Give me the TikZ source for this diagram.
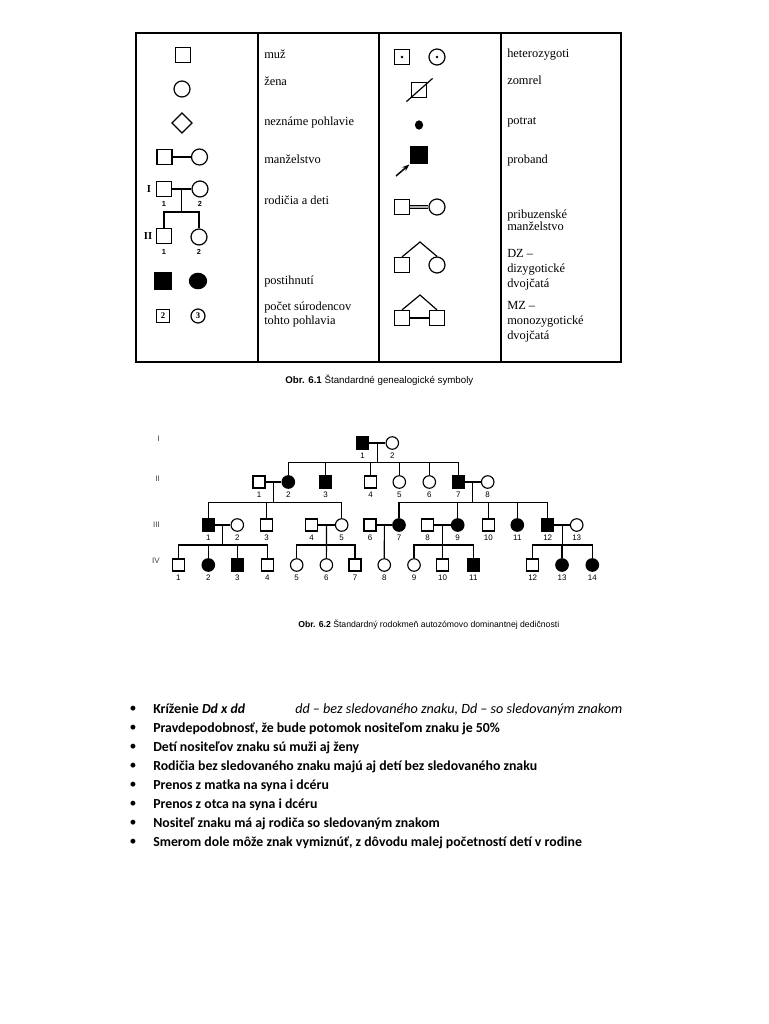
\documentclass[tikz,border=0pt]{standalone}
\usepackage{fontspec}
\setmainfont{Liberation Serif}
\newfontfamily\arialf{Liberation Sans}
\newfontfamily\calib{Carlito}
\usetikzlibrary{calc,arrows.meta,shapes.geometric}
\begin{document}
\begin{tikzpicture}[x=0.75pt,y=-0.75pt,
  tab/.style={line width=1.2pt},
  sym/.style={draw,line width=0.9pt,inner sep=0pt},
  tsq/.style={sym,rectangle,minimum size=11.25pt},
  tci/.style={sym,circle,minimum size=12pt},
  tdia/.style={sym,diamond,minimum size=15.5pt},
  tline/.style={line width=0.9pt},
  ttxt/.style={anchor=base west,inner sep=0pt,font=\fontsize{9.3}{11.2}\selectfont},
  tnum/.style={inner sep=0pt,font=\arialf\bfseries\fontsize{5.5}{6}\selectfont},
  tgen/.style={inner sep=0pt,font=\bfseries\fontsize{8}{9}\selectfont},
  psq/.style={draw,rectangle,minimum size=9pt,inner sep=0pt,line width=0.85pt},
  pci/.style={draw,circle,minimum size=9.4pt,inner sep=0pt,line width=0.85pt},
  aff/.style={fill=black},
  pline/.style={line width=0.85pt},
  every label/.style={inner sep=0pt,font=\arialf\fontsize{6}{7}\selectfont},
  label distance=2pt,
  pgen/.style={anchor=east,inner sep=0pt,text=black!75,font=\arialf\fontsize{6}{7}\selectfont},
  captxt/.style={anchor=base west,inner sep=0pt},
  btxt/.style={anchor=base west,inner sep=0pt,font=\calib\bfseries\fontsize{10.35}{12}\selectfont},
  bul/.style={inner sep=0pt,font=\calib\fontsize{10.35}{12}\selectfont}
]
\useasboundingbox (0,0) rectangle (768,1024);
\fill[white] (0,0) rectangle (768,1024);

% ---------------- table ----------------
\draw[tab] (136,33) rectangle (621,362);
\draw[tab] (258,33) -- (258,362);
\draw[tab] (379,33) -- (379,362);
\draw[tab] (501,33) -- (501,362);

% left column symbols
\node[tsq] (muz) at (183,55) {};
\node[tci] (zena) at (182,89) {};
\node[tdia] (nezn) at (182,123) {};
\node[tsq] (mz1) at (164.5,157) {};
\node[tci] (mz2) at (199.5,157) {};
\draw[tline] (mz1) -- (mz2);

\node[tgen] (gI) at (149,189) {I};
\node[tsq] (r1) at (164,189) {};
\node[tci] (r2) at (200,189) {};
\draw[tline] (r1) -- (r2);
\node[tnum] (r1n) at (164,204) {1};
\node[tnum] (r2n) at (200,204) {2};
\node[tgen] (gII) at (148,236) {II};
\node[tsq] (c1) at (164,236) {};
\node[tci] (c2) at (199,237) {};
\node[tnum] (c1n) at (164,252) {1};
\node[tnum] (c2n) at (199,252) {2};
\coordinate (rm) at ($(r1.east)!.5!(r2.west)$);
\coordinate (rf) at ($(rm)+(0,23)$);
\draw[tline] (rm) -- (rf);
\draw[tline] (c1.north) |- (rf) -| (c2.north);

\node[sym,rectangle,minimum size=12pt,fill=black] (pm) at (163,281) {};
\node[sym,ellipse,minimum width=12.8pt,minimum height=11.5pt,fill=black] (pz) at (198,281) {};
\node[sym,rectangle,minimum size=9.8pt,font=\bfseries\fontsize{6.5}{7}\selectfont] (sm) at (163,316) {2};
\node[sym,circle,minimum size=10.5pt,font=\bfseries\fontsize{6.5}{7}\selectfont] (sz) at (198,316) {3};

% left column texts
\node[ttxt] (t1) at (264,58.5) {muž};
\node[ttxt] (t2) at (264,85.5) {žena};
\node[ttxt] (t3) at (264,125.5) {neznáme pohlavie};
\node[ttxt] (t4) at (264,163.5) {manželstvo};
\node[ttxt] (t5) at (264,204) {rodičia a deti};
\node[ttxt] (t6) at (264,284.5) {postihnutí};
\node[ttxt] (t7) at (264,310.5) {počet súrodencov};
\node[ttxt] (t8) at (264,324) {tohto pohlavia};

% right column symbols
\node[tsq] (hs) at (402,57) {};
\fill (hs.center) circle (1.4);
\node[tci] (hc) at (437,57) {};
\fill (hc.center) circle (1.4);

\node[tsq] (zm) at (419,90) {};
\coordinate (zma) at ($(zm.south west)+(-4.5,3.5)$);
\coordinate (zmb) at ($(zm.north east)+(5.5,-3.5)$);
\draw[tline] (zma) -- (zmb);

\node[sym,ellipse,fill=black,minimum width=5.2pt,minimum height=6pt] (pot) at (419,125) {};

\node[sym,rectangle,minimum size=12pt,fill=black] (pb) at (419,155) {};
\coordinate (pbt) at (396,176);
\draw[line width=1.1pt,-{Stealth[length=5.5pt,width=4pt]},shorten >=1pt] (pbt) -- (pb.south west);

\node[tsq] (ps) at (402,207) {};
\node[tci] (pc) at (437,207) {};
\draw[line width=0.5pt,double=gray!60,double distance=1.8pt] (ps) -- (pc);

\coordinate (dza) at (420,242);
\node[tsq] (dzs) at (402,265) {};
\node[tci] (dzc) at (437,265) {};
\draw[tline] (dzs.north) -- (dza) -- (dzc.north);

\coordinate (mza) at (420,295);
\node[tsq] (mzs1) at (402,318) {};
\node[tsq] (mzs2) at (437,318) {};
\draw[tline] (mzs1.north) -- (mza) -- (mzs2.north);
\draw[tline] (mzs1) -- (mzs2);

% right column texts
\node[ttxt] (u1) at (507,57.5) {heterozygoti};
\node[ttxt] (u2) at (507,84.5) {zomrel};
\node[ttxt] (u3) at (507,124.5) {potrat};
\node[ttxt] (u4) at (507,163.5) {proband};
\node[ttxt] (u5) at (507,218) {pribuzenské};
\node[ttxt] (u6) at (507,230.5) {manželstvo};
\node[ttxt] (u7) at (507,257) {DZ –};
\node[ttxt] (u8) at (507,272) {dizygotické};
\node[ttxt] (u9) at (507,287) {dvojčatá};
\node[ttxt] (u10) at (507,309) {MZ –};
\node[ttxt] (u11) at (507,324.5) {monozygotické};
\node[ttxt] (u12) at (507,339.5) {dvojčatá};

\node[captxt,font=\arialf\fontsize{7.3}{9}\selectfont] (cap1) at (285,383) {\textbf{Obr. 6.1} Štandardné genealogické symboly};

% ---------------- pedigree ----------------
\node[pgen] (GI) at (160,439) {I};
\node[pgen] (GII) at (160,479) {II};
\node[pgen] (GIII) at (160,525) {III};
\node[pgen] (GIV) at (160,561) {IV};

% generation I
\node[psq,aff,label=below:1] (I1) at (362.7,443) {};
\node[pci,label=below:2] (I2) at (392.3,443) {};
% generation II
\node[psq,label=below:1] (II1) at (259,482) {};
\node[pci,aff,label=below:2] (II2) at (288.3,482) {};
\node[psq,aff,label=below:3] (II3) at (325.7,482) {};
\node[psq,label=below:4] (II4) at (370.7,482) {};
\node[pci,label=below:5] (II5) at (399.3,482) {};
\node[pci,label=below:6] (II6) at (429.3,482) {};
\node[psq,aff,label=below:7] (II7) at (458.3,482) {};
\node[pci,label=below:8] (II8) at (487.7,482) {};
% generation III
\node[psq,aff,label=below:1] (III1) at (208.3,525) {};
\node[pci,label=below:2] (III2) at (237.3,525) {};
\node[psq,label=below:3] (III3) at (266.7,525) {};
\node[psq,label=below:4] (III4) at (311.7,525) {};
\node[pci,label=below:5] (III5) at (341.7,525) {};
\node[psq,label=below:6] (III6) at (370,525) {};
\node[pci,aff,label=below:7] (III7) at (399,525) {};
\node[psq,label=below:8] (III8) at (427.7,525) {};
\node[pci,aff,label=below:9] (III9) at (457.7,525) {};
\node[psq,label=below:10] (III10) at (488.3,525) {};
\node[pci,aff,label=below:11] (III11) at (517.3,525) {};
\node[psq,aff,label=below:12] (III12) at (547.7,525) {};
\node[pci,label=below:13] (III13) at (576.7,525) {};
% generation IV
\node[psq,label=below:1] (IV1) at (178.3,565) {};
\node[pci,aff,label=below:2] (IV2) at (208.3,565) {};
\node[psq,aff,label=below:3] (IV3) at (237.3,565) {};
\node[psq,label=below:4] (IV4) at (267.3,565) {};
\node[pci,label=below:5] (IV5) at (296.7,565) {};
\node[pci,label=below:6] (IV6) at (326.4,565) {};
\node[psq,label=below:7] (IV7) at (355,565) {};
\node[pci,label=below:8] (IV8) at (384.25,565) {};
\node[pci,label=below:9] (IV9) at (414,565) {};
\node[psq,label=below:10] (IV10) at (442.5,565) {};
\node[psq,aff,label=below:11] (IV11) at (473.3,565) {};
\node[psq,label=below:12] (IV12) at (532.7,565) {};
\node[pci,aff,label=below:13] (IV13) at (562,565) {};
\node[pci,aff,label=below:14] (IV14) at (592.3,565) {};

% marriages
\draw[pline] (I1) -- (I2);
\draw[pline] (II1) -- (II2);
\draw[pline] (II7) -- (II8);
\draw[pline] (III1) -- (III2);
\draw[pline] (III4) -- (III5);
\draw[pline] (III6) -- (III7);
\draw[pline] (III8) -- (III9);
\draw[pline] (III12) -- (III13);

% family A
\coordinate (mA) at ($(I1.east)!.5!(I2.west)$);
\coordinate (fA) at ($(mA)+(0,19.3)$);
\draw[pline] (mA) -- (fA);
\draw[pline] (II2.north) |- (fA) -| (II7.north);
\foreach \c in {II3,II4,II5,II6} \draw[pline] (\c.north) -- (\c.north |- fA);
% family B
\coordinate (mB) at ($(II1.east)!.5!(II2.west)$);
\coordinate (fB) at ($(mB)+(0,20.7)$);
\draw[pline] (mB) -- (fB);
\draw[pline] (III1.north) |- (fB) -| (III5.north);
\draw[pline] (III3.north) -- (III3.north |- fB);
% family C
\coordinate (mC) at ($(II7.east)!.5!(II8.west)$);
\coordinate (fC) at ($(mC)+(0,20.7)$);
\draw[pline] (mC) -- (fC);
\draw[pline] (III7.north) |- (fC) -| (III12.north);
\foreach \c in {III9,III10,III11} \draw[pline] (\c.north) -- (\c.north |- fC);
% family D
\coordinate (mD) at ($(III1.east)!.5!(III2.west)$);
\coordinate (fD) at ($(mD)+(0,20)$);
\draw[pline] (mD) -- (fD);
\draw[pline] (IV1.north) |- (fD) -| (IV4.north);
\foreach \c in {IV2,IV3} \draw[pline] (\c.north) -- (\c.north |- fD);
% family E
\coordinate (mE) at ($(III4.east)!.5!(III5.west)$);
\coordinate (fE) at ($(mE)+(0,20)$);
\draw[pline] (mE) -- (IV6.north);
\draw[pline] (IV5.north) |- (fE) -| (IV7.north);
% family F
\coordinate (mF) at ($(III6.east)!.5!(III7.west)$);
\draw[pline] (mF) -- (IV8.north);
% family G
\coordinate (mG) at ($(III8.east)!.5!(III9.west)$);
\coordinate (fG) at ($(mG)+(0,20)$);
\draw[pline] (mG) -- (fG);
\draw[pline] (IV9.north) |- (fG) -| (IV11.north);
\draw[pline] (IV10.north) -- (IV10.north |- fG);
% family H
\coordinate (mH) at ($(III12.east)!.5!(III13.west)$);
\coordinate (fH) at ($(mH)+(0,20)$);
\draw[pline] (mH) -- (fH);
\draw[pline] (IV12.north) |- (fH) -| (IV14.north);
\draw[pline] (IV13.north) -- (IV13.north |- fH);

\node[captxt,font=\arialf\fontsize{6.5}{8}\selectfont] (cap2) at (298,627) {\textbf{Obr. 6.2} Štandardný rodokmeň autozómovo dominantnej dedičnosti};

% ---------------- bullets ----------------
\foreach \y [count=\i] in {709,728,747,766,785,804,823,842}
  \node[bul] (b\i) at (133,\y) {•};
\node[btxt] (l1) at (153,713) {Kríženie \textit{Dd x dd}};
\node[anchor=base west,inner sep=0pt,font=\calib\itshape\fontsize{10.6}{12}\selectfont] (l1b) at (295,713) {dd – bez sledovaného znaku, Dd – so sledovaným znakom};
\node[btxt] (l2) at (153,732) {Pravdepodobnosť, že bude potomok nositeľom znaku je 50\%};
\node[btxt] (l3) at (153,751) {Detí nositeľov znaku sú muži aj ženy};
\node[btxt] (l4) at (153,770) {Rodičia bez sledovaného znaku majú aj detí bez sledovaného znaku};
\node[btxt] (l5) at (153,789) {Prenos z matka na syna i dcéru};
\node[btxt] (l6) at (153,808) {Prenos z otca na syna i dcéru};
\node[btxt] (l7) at (153,827) {Nositeľ znaku má aj rodiča so sledovaným znakom};
\node[btxt] (l8) at (153,846) {Smerom dole môže znak vymiznúť, z dôvodu malej početností detí v rodine};
\end{tikzpicture}
\end{document}
